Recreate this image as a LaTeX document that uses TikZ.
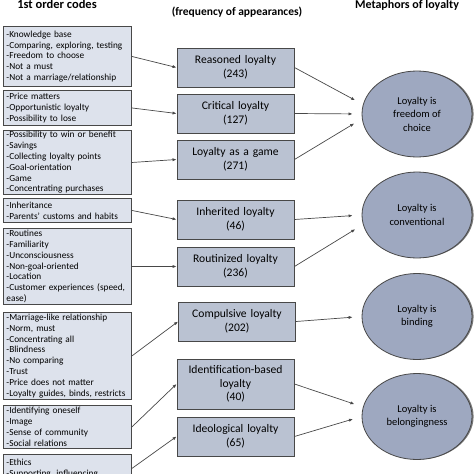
\documentclass[tikz,border=0pt]{standalone}
\usepackage{fontspec}
\setmainfont{Carlito}
\usepackage{tikz}
\usetikzlibrary{arrows.meta,positioning,shapes.geometric,shadows}
\definecolor{codefill}{RGB}{221,226,236}
\definecolor{themefill}{RGB}{186,194,210}
\definecolor{metafill}{RGB}{158,168,192}
\definecolor{edgegray}{RGB}{72,72,72}
\tikzset{
  >={Latex[length=4pt,width=3.2pt]},
  code/.style={draw=edgegray, line width=0.9pt, fill=codefill, anchor=north west, text width=122pt, align=left, inner xsep=3pt, inner ysep=1pt, font=\fontsize{9.3}{10.8}\selectfont},
  theme/.style={draw=edgegray, line width=0.9pt, fill=themefill, minimum width=117pt, minimum height=39pt, text width=112pt, align=center, inner sep=1pt, font=\fontsize{11.6}{13.5}\selectfont},
  metaphor/.style={ellipse, draw=edgegray, line width=0.8pt, fill=metafill, minimum width=110pt, minimum height=86pt, align=center, font=\fontsize{10.5}{13.5}\selectfont, drop shadow={shadow xshift=1.6pt, shadow yshift=0pt, fill=black!75, opacity=0.7}},
  heading/.style={anchor=base, font=\bfseries\fontsize{12.5}{14}\selectfont},
  conn/.style={->, draw=edgegray, line width=0.7pt},
  link/.style={conn, shorten >=9pt},
}

\begin{document}
\begin{tikzpicture}[x=1pt, y=-1pt]
  \useasboundingbox (0,0) rectangle (474,474);
  \clip (0,0) rectangle (474,474);

  % column headings
  \node[heading] (h1) at (57,8) {1st order codes};
  \node[heading, font=\bfseries\fontsize{11.5}{13}\selectfont] (h2) at (237,15.5) {(frequency of appearances)};
  \node[heading, font=\bfseries\fontsize{12}{14}\selectfont] (h3) at (407,8) {Metaphors of loyalty};

  % 1st order codes
  \node[code, minimum height=60pt] (c1) at (3,26) {-Knowledge base\\-Comparing, exploring, testing\\-Freedom to choose\\-Not a must\\-Not a marriage/relationship};
  \node[code, minimum height=35pt] (c2) at (3,90) {-Price matters\\-Opportunistic loyalty\\-Possibility to lose};
  \node[code, minimum height=64pt] (c3) at (3,130) {-Possibility to win or benefit\\-Savings\\-Collecting loyalty points\\-Goal-orientation\\-Game\\-Concentrating purchases};
  \node[code, minimum height=24pt] (c4) at (3,198) {-Inheritance\\-Parents’ customs and habits};
  \node[code, minimum height=76pt] (c5) at (3,228) {-Routines\\-Familiarity\\-Unconsciousness\\-Non-goal-oriented\\-Location\\-Customer experiences (speed,\\ease)};
  \node[code, minimum height=87pt] (c6) at (3,312) {-Marriage-like relationship\\-Norm, must\\-Concentrating all\\-Blindness\\-No comparing\\-Trust\\-Price does not matter\\-Loyalty guides, binds, restricts};
  \node[code, minimum height=43pt] (c7) at (3,405) {-Identifying oneself\\-Image\\-Sense of community\\-Social relations};
  \node[code, minimum height=28pt] (c8) at (3,454) {-Ethics\\-Supporting, influencing};

  % types of loyalty
  \node[theme] (reasoned) at (235.5,67.5) {Reasoned loyalty\\(243)};
  \node[theme] (critical) at (235.5,113.5) {Critical loyalty\\(127)};
  \node[theme] (game) at (235.5,159.5) {Loyalty as a game\\(271)};
  \node[theme] (inherited) at (235.5,219.5) {Inherited loyalty\\(46)};
  \node[theme] (routinized) at (235.5,266.5) {Routinized loyalty\\(236)};
  \node[theme] (compulsive) at (237,321.5) {Compulsive loyalty\\(202)};
  \node[theme, minimum height=50pt] (identification) at (235.5,384) {Identification-based\\loyalty\\(40)};
  \node[theme] (ideological) at (235.5,436.5) {Ideological loyalty\\(65)};

  % metaphors
  \node[metaphor] (freedom) at (417,114) {Loyalty is\\freedom of\\choice};
  \node[metaphor] (conventional) at (417,215) {Loyalty is\\conventional};
  \node[metaphor] (binding) at (417,316.5) {Loyalty is\\binding};
  \node[metaphor] (belonging) at (417,416.5) {Loyalty is\\belongingness};

  \draw[conn] (c1.east) -- (reasoned.west);
  \draw[conn] (c2.east) -- (critical.west);
  \draw[conn] (c3.east) -- (game.west);
  \draw[conn] (c4.east) -- (inherited.west);
  \draw[conn] (c5.east) -- (routinized.west);
  \draw[conn] (c6.east) -- (compulsive.west);
  \draw[conn] (c7.east) -- (identification.west);
  \draw[conn] (c8.east) -- (ideological.west);

  \draw[link] (reasoned.east) -- (freedom.170);
  \draw[link] (critical.east) -- (freedom.west);
  \draw[link] (game.east) -- (freedom.185);
  \draw[link] (inherited.east) -- (conventional.west);
  \draw[link] (routinized.east) -- (conventional.190);
  \draw[link] (compulsive.east) -- (binding.west);
  \draw[link] (identification.east) -- (belonging.170);
  \draw[link] (ideological.east) -- (belonging.west);
\end{tikzpicture}
\end{document}
